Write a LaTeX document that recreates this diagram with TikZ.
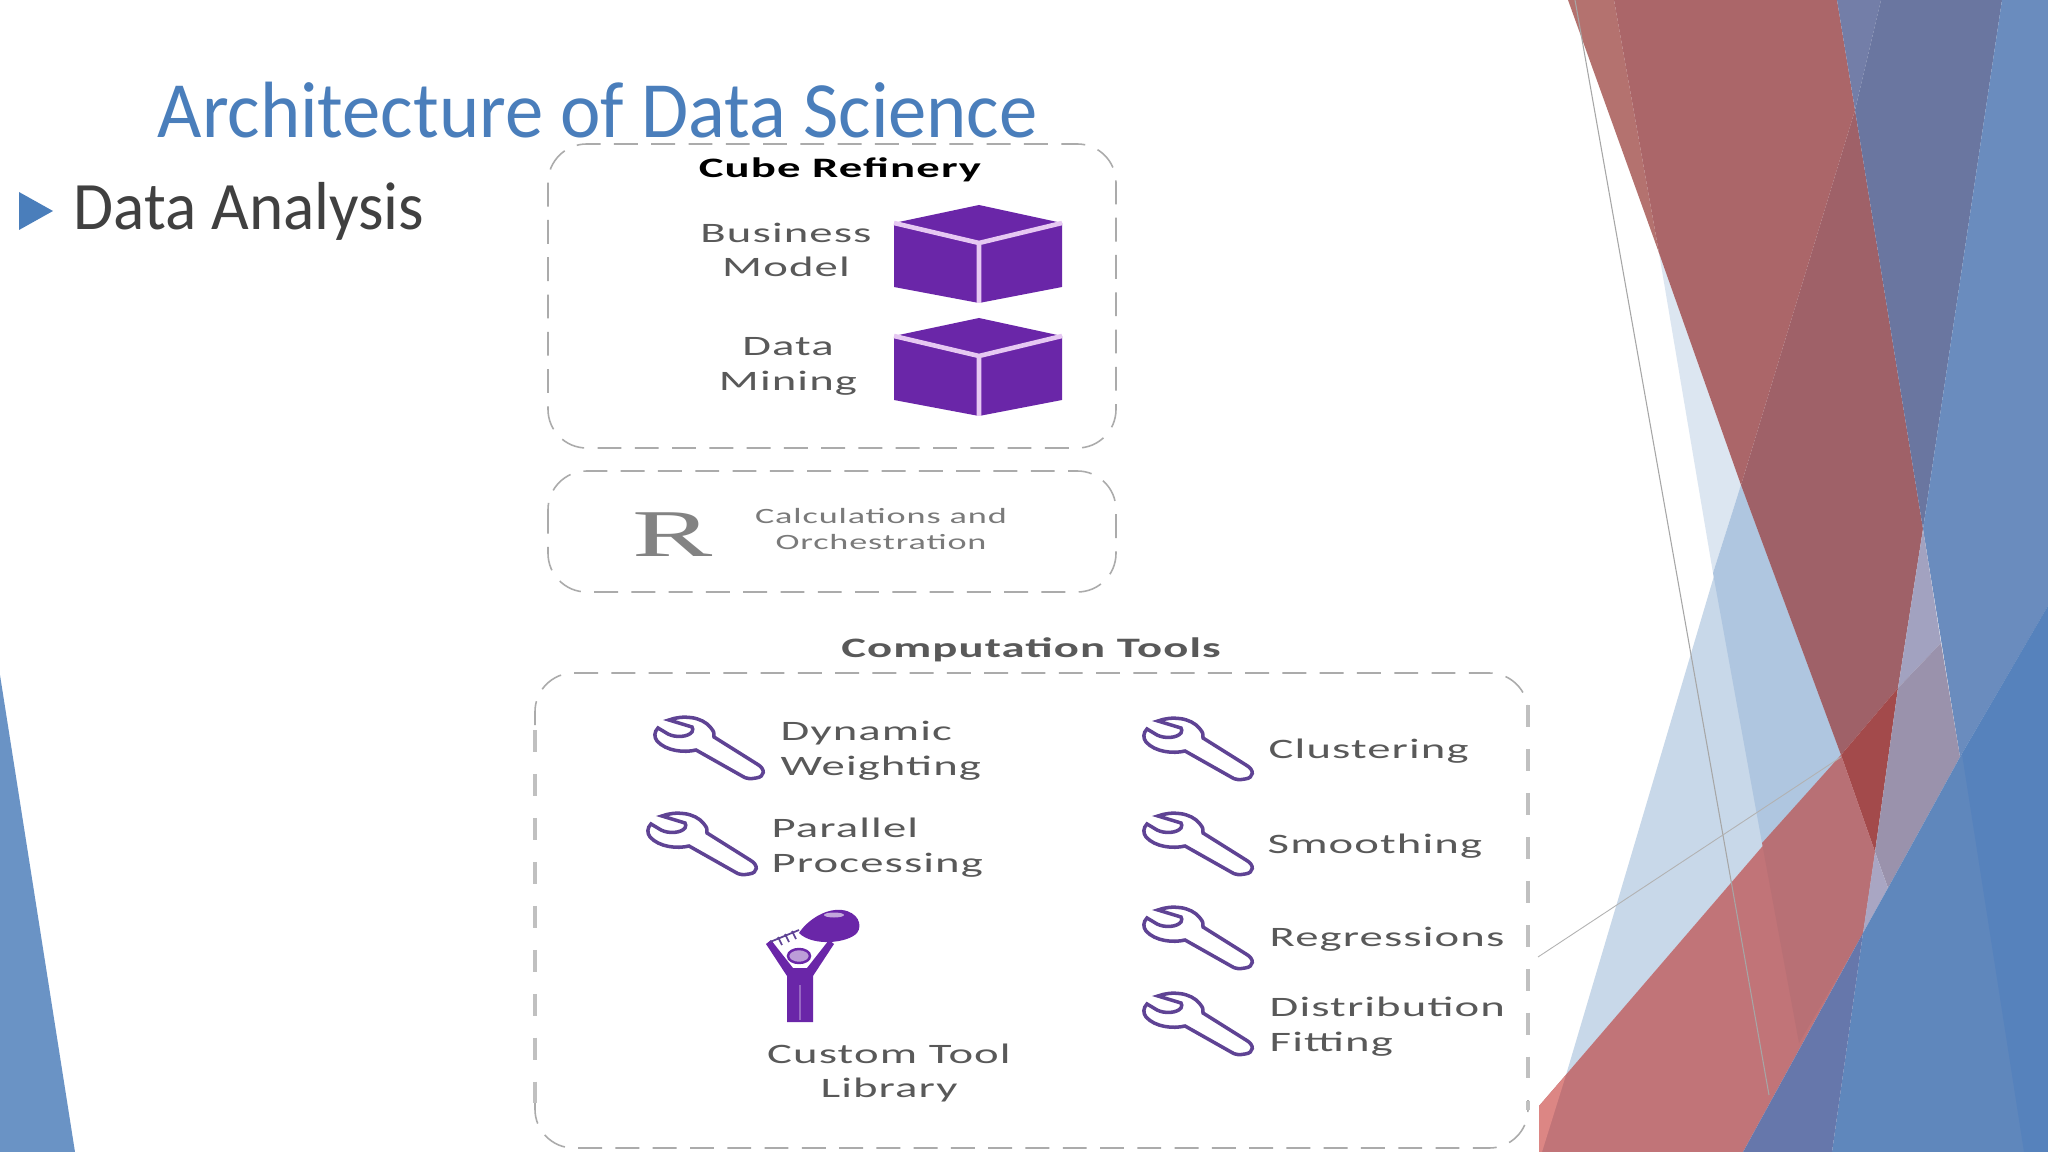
\documentclass[tikz,border=0pt]{standalone}
\usepackage{fontspec}
\setmainfont{Carlito}
\newfontfamily\titlefont[FakeStretch=0.96]{Carlito}
\newfontfamily\labelfont[FakeStretch=1.66,LetterSpace=4]{Carlito}
\newfontfamily\serifwide[FakeStretch=1.8]{Liberation Serif}
\usetikzlibrary{calc,positioning}

\definecolor{titleblue}{HTML}{4A7EBB}
\definecolor{bodygrey}{HTML}{404040}
\definecolor{labelgrey}{HTML}{595959}
\definecolor{dashgrey}{HTML}{ABABAB}
\definecolor{cubepurple}{HTML}{6A26A8}
\definecolor{cubeline}{HTML}{E6C8F2}
\definecolor{wrenchpurple}{HTML}{5F4394}

\definecolor{facetleft}{HTML}{6A93C5}
\definecolor{paleA}{HTML}{DCE6F1}
\definecolor{paleB}{HTML}{C8D8E9}
\definecolor{paleC}{HTML}{AFC6E0}
\definecolor{redA}{HTML}{B4726F}
\definecolor{redB}{HTML}{AB6669}
\definecolor{redC}{HTML}{9F6168}
\definecolor{redD}{HTML}{A34A4B}
\definecolor{redE}{HTML}{C17478}
\definecolor{redF}{HTML}{B87075}
\definecolor{redG}{HTML}{DC8684}
\definecolor{slateA}{HTML}{737EA8}
\definecolor{slateB}{HTML}{6A76A0}
\definecolor{slateC}{HTML}{6677AB}
\definecolor{blueA}{HTML}{6A8CBE}
\definecolor{blueB}{HTML}{5F87BC}
\definecolor{blueC}{HTML}{5682BC}
\definecolor{lavA}{HTML}{A2A2C0}
\definecolor{lavB}{HTML}{9A92AC}
\definecolor{lavC}{HTML}{A9A6C3}

\tikzset{
    dashbox/.style={draw=dashgrey, line width=0.45pt, dash pattern=on 6.8pt off 3.8pt},
    dashside/.style={draw=dashgrey!75, line width=1.1pt, dash pattern=on 6.2pt off 6.3pt},
    itemlabel/.style={font=\labelfont\fontsize{8}{9.9}\selectfont, text=labelgrey, inner sep=0pt},
    smalllabel/.style={font=\labelfont\fontsize{6.2}{7.4}\selectfont, text=labelgrey!80, inner sep=0pt},
    headlabel/.style={font=\labelfont\bfseries\fontsize{8}{9.9}\selectfont, inner sep=0pt},
    cubeicon/.pic={
        \fill[cubepurple] (0,18) -- (85,0) -- (168,18) -- (168,82) -- (85,98) -- (0,82) -- cycle;
        \draw[cubeline, line width=1.3pt] (0,18) -- (85,38) -- (168,18)  (85,38) -- (85,98);
    },
    wrenchicon/.pic={
        \draw[wrenchpurple, line width=1pt, fill=white] (15,3) .. controls (28,-2) and (48,-1) .. (57,11) .. controls (60,15) .. (60,20) -- (103,47) .. controls (112,52) and (111,60) .. (102,61) .. controls (97,62) and (92,62) .. (88,59) -- (42,33) .. controls (30,36) and (12,34) .. (3,24) .. controls (0,20) and (0,15) .. (4,11) -- (14,17) .. controls (22,21) and (34,20) .. (38,15) .. controls (39,12) .. (38,10) -- cycle;
    }
}

\begin{document}
\begin{tikzpicture}[x=0.01cm, y=-0.01cm]
        \useasboundingbox (0,0) rectangle (2048,1152);

        % facets on the left and right
        \fill[white] (0,0) rectangle (2048,1152);
        \fill[facetleft] (0,675) -- (75,1152) -- (0,1152) -- cycle;

        \fill[paleA] (1659,253) -- (1741,485) -- (1713,573) -- cycle;
        \fill[paleB] (1741,485) -- (1841,755) -- (1566,1075) -- cycle;
        \fill[paleC] (1713,573) -- (1741,485) -- (1841,755) -- (1762,843) -- cycle;

        \fill[redA] (1568,0) -- (1614,0) -- (1659,253) -- cycle;
        \fill[redB] (1614,0) -- (1837,0) -- (1855,110) -- (1741,485) -- (1659,253) -- cycle;
        \fill[redC] (1741,485) -- (1855,110) -- (1923,529) -- (1898,688) -- (1841,755) -- cycle;
        \fill[redD] (1841,755) -- (1898,688) -- (1875,852) -- cycle;

        \fill[redE] (1539,1106) -- (1841,755) -- (1875,852) -- (1863,933) -- (1743,1152) -- (1539,1152) -- cycle;
        \fill[redF] (1762,843) -- (1841,755) -- (1875,852) -- (1863,933) -- (1799,1043) -- cycle;
        \fill[redG] (1539,1106) -- (1566,1075) -- (1542,1152) -- (1539,1152) -- cycle;

        \fill[slateA] (1837,0) -- (1881,0) -- (1855,110) -- cycle;
        \fill[slateB] (1881,0) -- (2002,0) -- (1923,529) -- (1855,110) -- cycle;
        \fill[blueA] (2002,0) -- (2048,0) -- (2048,606) -- (1960,757) -- (1923,529) -- cycle;

        \fill[lavA] (1923,529) -- (1941,643) -- (1898,688) -- cycle;
        \fill[lavB] (1898,688) -- (1941,643) -- (1960,757) -- (1888,888) -- (1875,852) -- cycle;
        \fill[lavC] (1875,852) -- (1888,888) -- (1863,933) -- cycle;

        \fill[blueB] (1863,933) -- (1888,888) -- (1960,757) -- (2048,606) -- (2048,1152) -- (1832,1152) -- cycle;
        \fill[blueC] (1962,754) -- (2048,606) -- (2048,1152) -- (2024,1152) -- cycle;
        \fill[slateC] (1743,1152) -- (1863,933) -- (1832,1152) -- cycle;

        \draw[black!35, line width=0.3pt] (1575,0) -- (1769,1095);
        \draw[black!30, line width=0.25pt] (1538,957) -- (1841,757);

        % title and bullet
        \node[anchor=base west, inner sep=0pt, text=titleblue, font=\titlefont\fontsize{22.7}{26}\selectfont] (titletext) at (157,138) {Architecture of Data Science};
        \fill[titleblue] (19,192) -- (53,211) -- (19,230) -- cycle;
        \node[anchor=base west, inner sep=0pt, text=bodygrey, font=\titlefont\fontsize{19.3}{22}\selectfont] (bullettext) at (73,230) {Data Analysis};

        % cube refinery
        \draw[dashbox, rounded corners=11pt] (548,144) rectangle (1116,448);
        \node[headlabel] (cubehead) at (840,170) {Cube Refinery};
        \node[itemlabel, align=center] (bizmodel) at (786,250) {Business\\Model};
        \node[itemlabel, align=center] (datamining) at (788,366) {Data\\Mining};
        \pic at (894,205) {cubeicon};
        \pic at (894,318) {cubeicon};

        % calculations
        \draw[dashbox, rounded corners=11pt] (548,471) rectangle (1116,592);
        \node[inner sep=0pt, text=labelgrey!75, font=\serifwide\fontsize{19}{22}\selectfont] (rmark) at (673,535) {R};
        \node[smalllabel, align=center] (calcorch) at (881,529) {Calculations and\\Orchestration};

        % computation tools
        \node[headlabel, text=labelgrey] (comphead) at (1031,650) {Computation Tools};
        \draw[dashbox, rounded corners=11pt] (535,725) -- (535,673) -- (1528,673) -- (1528,725);
        \draw[dashbox, rounded corners=11pt] (535,1100) -- (535,1148) -- (1528,1148) -- (1528,1100);
        \draw[dashside] (535,730) -- (535,1110);
        \draw[dashside] (1528,705) -- (1528,1110);

        \pic at (654,717) {wrenchicon};
        \pic at (647,813) {wrenchicon};
        \pic at (1143,718) {wrenchicon};
        \pic at (1143,813) {wrenchicon};
        \pic at (1143,907) {wrenchicon};
        \pic at (1143,993) {wrenchicon};

        \node[itemlabel, align=left, anchor=west] (dynweight) at (780,751) {Dynamic\\Weighting};
        \node[itemlabel, align=left, anchor=west] (parproc) at (771,848) {Parallel\\Processing};
        \node[itemlabel, anchor=west] (clustering) at (1268,751) {Clustering};
        \node[itemlabel, anchor=west] (smoothing) at (1267,846) {Smoothing};
        \node[itemlabel, anchor=west] (regressions) at (1269,939) {Regressions};
        \node[itemlabel, align=left, anchor=west] (distfit) at (1269,1027) {Distribution\\Fitting};
        \node[itemlabel, align=center] (customlib) at (889,1073) {Custom Tool\\Library};

        % custom tool figure
        \fill[cubepurple] (766,944) -- (771,940) -- (793,968) -- (807,968) -- (829,940) -- (834,944) -- (813,976) -- (813,1022) -- (787,1022) -- (787,976) -- cycle;
        \draw[cubepurple!70!white, line width=0.8pt] (800,985) -- (800,1020);
        \draw[cubepurple, line width=0.7pt, fill=cubepurple!45!white] (799,956) ellipse (11 and 7);
        \fill[cubepurple] (799,933) .. controls (806,922) and (824,908) .. (842,910) .. controls (858,912) and (863,925) .. (857,933) .. controls (848,943) and (813,947) .. (799,933) -- cycle;
        \fill[cubepurple!40!white] (834,915) ellipse (10 and 2.5);
        \draw[wrenchpurple, line width=0.5pt] (778,937) -- (782,945)  (785,934) -- (789,942)  (792,931) -- (796,939)  (770,942) -- (799,930);
\end{tikzpicture}
\end{document}
